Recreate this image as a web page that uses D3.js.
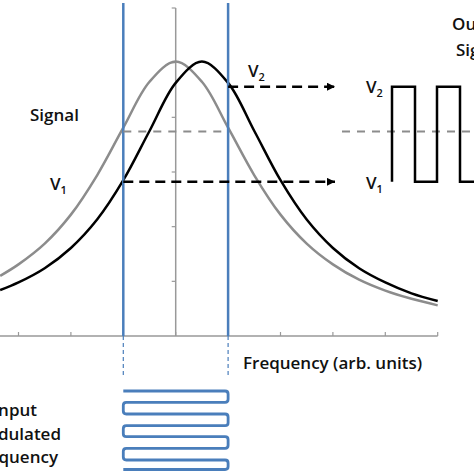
<!DOCTYPE html>
<html><head><meta charset="utf-8">
<script src="https://cdn.jsdelivr.net/npm/d3@7"></script>
<style>body{margin:0;background:#fff}svg{display:block}</style>
</head><body>
<script>
// --- data (arb. units) ---
const freq = [-3.35, -3, -2.5, -2, -1.5, -1, -0.5, 0, 0.5, 1, 1.5, 2, 2.5, 3, 3.5, 4, 4.5, 5];
const grayCurve = [1.10, 1.31, 1.69, 2.22, 2.94, 3.81, 4.65, 5.02, 4.65, 3.81, 2.94, 2.22, 1.69, 1.31, 1.03, 0.83, 0.68, 0.56];
const blackCurve = [0.84, 0.98, 1.24, 1.61, 2.13, 2.85, 3.75, 4.63, 5.02, 4.63, 3.75, 2.85, 2.13, 1.61, 1.24, 0.98, 0.78, 0.64];
const xTicks = [-3, -2, -1, 0, 1, 2, 3, 4, 5];
const yTicks = [1, 2, 3, 4, 5, 6];
const bandEdges = [-1, 1];
const levelV1 = 2.82, levelV2 = 4.56, levelMid = 3.74;
const squareWave = [[392, levelV1], [392, levelV2], [415, levelV2], [415, levelV1], [437, levelV1], [437, levelV2], [460, levelV2], [460, levelV1], [476, levelV1]];
const serpentineRows = [391, 402.3, 414, 425.7, 436.7, 448.3, 460, 469.5];

const w = 474, h = 474;
const blue = "#4a7ebb";
const x = d3.scaleLinear().domain([-3, 5]).range([18.5, 437.7]);
const y = d3.scaleLinear().domain([0, 6]).range([336, 8]);

const svg = d3.select("body").append("svg").attr("width", w).attr("height", h);

// axes
svg.append("line").attr("x1", 0).attr("x2", x(5)).attr("y1", y(0)).attr("y2", y(0))
    .attr("stroke", "#999").attr("stroke-width", 1.5);
svg.append("line").attr("x1", x(0)).attr("x2", x(0)).attr("y1", y(0)).attr("y2", y(6))
    .attr("stroke", "#999").attr("stroke-width", 1.5);
svg.selectAll(".xt").data(xTicks).enter().append("line")
    .attr("x1", d => x(d)).attr("x2", d => x(d)).attr("y1", y(0)).attr("y2", y(0) - 4)
    .attr("stroke", "#999").attr("stroke-width", 1.2);
svg.selectAll(".yt").data(yTicks).enter().append("line")
    .attr("x1", x(0)).attr("x2", x(0) - 4).attr("y1", d => y(d)).attr("y2", d => y(d))
    .attr("stroke", "#999").attr("stroke-width", 1.2);

// curves
const line = d3.line().x((d, i) => x(freq[i])).y(d => y(d)).curve(d3.curveCatmullRom);
svg.append("path").attr("d", line(grayCurve)).attr("fill", "none").attr("stroke", "#8c8c8c").attr("stroke-width", 2.5);
svg.append("path").attr("d", line(blackCurve)).attr("fill", "none").attr("stroke", "#000").attr("stroke-width", 2.5);

// blue band lines
svg.selectAll(".band").data(bandEdges).enter().append("line")
    .attr("x1", d => x(d)).attr("x2", d => x(d)).attr("y1", 3).attr("y2", y(0))
    .attr("stroke", blue).attr("stroke-width", 2.5);
svg.selectAll(".bandd").data(bandEdges).enter().append("line")
    .attr("x1", d => x(d)).attr("x2", d => x(d)).attr("y1", y(0)).attr("y2", 378)
    .attr("stroke", blue).attr("stroke-width", 1.2).attr("stroke-dasharray", "4,3");

// dashed level lines
svg.append("line").attr("x1", x(-1)).attr("x2", x(1)).attr("y1", y(levelMid)).attr("y2", y(levelMid))
    .attr("stroke", "#8c8c8c").attr("stroke-width", 2).attr("stroke-dasharray", "8,7");
svg.append("line").attr("x1", 342).attr("x2", 474).attr("y1", y(levelMid)).attr("y2", y(levelMid))
    .attr("stroke", "#8c8c8c").attr("stroke-width", 2).attr("stroke-dasharray", "8,7");

const defs = svg.append("defs");
defs.append("marker").attr("id", "ar").attr("viewBox", "0 0 10 10").attr("refX", 10).attr("refY", 5)
    .attr("markerWidth", 3.2).attr("markerHeight", 3.2).attr("orient", "auto").attr("markerUnits", "strokeWidth")
    .append("path").attr("d", "M0,0L10,5L0,10Z").attr("fill", "#000");
[[x(1), levelV2], [x(-1), levelV1]].forEach(([sx, lv]) => {
    svg.append("line").attr("x1", sx).attr("x2", 335).attr("y1", y(lv)).attr("y2", y(lv))
        .attr("stroke", "#000").attr("stroke-width", 2.5).attr("stroke-dasharray", "10,6")
        .attr("marker-end", "url(#ar)");
});

// output square wave
svg.append("path").attr("d", d3.line().x(d => d[0]).y(d => y(d[1]))(squareWave))
    .attr("fill", "none").attr("stroke", "#000").attr("stroke-width", 2.5);

// input serpentine
let sp = "M" + x(-1) + "," + serpentineRows[0];
serpentineRows.forEach((r, i) => {
    const right = i % 2 === 0;
    sp += "L" + (right ? x(1) - 3 : x(-1) + 3) + "," + r;
    if (i < serpentineRows.length - 1) {
        const r2 = serpentineRows[i + 1], cx = right ? x(1) : x(-1);
        sp += "Q" + cx + "," + r + " " + cx + "," + (r + 3) + "L" + cx + "," + (r2 - 3) +
              "Q" + cx + "," + r2 + " " + (right ? cx - 3 : cx + 3) + "," + r2;
    }
});
sp += "L" + x(-1) + "," + serpentineRows[serpentineRows.length - 1];
svg.append("path").attr("d", sp).attr("fill", "none").attr("stroke", blue).attr("stroke-width", 2.8);

// labels (the reference itself is cropped at the left and right edges)
const font = "'Open Sans', sans-serif";
function label(tx, ty, main, sub, anchor) {
    const t = svg.append("text").attr("x", tx).attr("y", ty).attr("font-family", font)
        .attr("font-size", 17).attr("font-weight", 600).attr("fill", "#111")
        .attr("text-anchor", anchor || "start").text(main);
    if (sub) t.append("tspan").attr("font-size", 11).attr("dy", 4).text(sub);
}
label(30, 121, "Signal");
label(50, 190, "V", "1");
label(248, 77, "V", "2");
label(366, 93, "V", "2");
label(366, 189, "V", "1");
label(452, 30, "Output");
label(456, 56, "Signal");
label(243, 369, "Frequency (arb. units)");
label(37, 416, "Input", null, "end");
label(61, 440, "Modulated", null, "end");
label(58, 463, "Frequency", null, "end");
</script>
</body></html>
